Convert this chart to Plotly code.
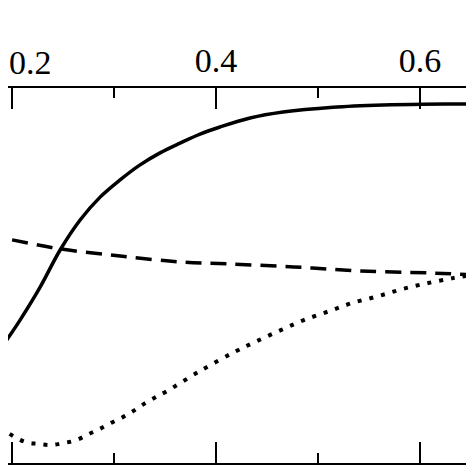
import plotly.graph_objects as go

solid_x = [0.180, 0.1882, 0.2078, 0.2275, 0.2471, 0.2667, 0.2863, 0.3059, 0.3255, 0.3451,
           0.3647, 0.3843, 0.4039, 0.4333, 0.4657, 0.5147, 0.5637, 0.6020, 0.6600]
solid_y = [0.735, 0.699, 0.619, 0.531, 0.432, 0.352, 0.291, 0.245, 0.205, 0.173,
           0.147, 0.123, 0.104, 0.080, 0.064, 0.051, 0.045, 0.043, 0.043]

dash_x = [0.200, 0.247, 0.306, 0.365, 0.411, 0.476, 0.541, 0.607, 0.645]
dash_y = [0.405, 0.429, 0.448, 0.464, 0.469, 0.477, 0.488, 0.493, 0.497]

dot_x = [0.180, 0.191, 0.201, 0.213, 0.225, 0.238, 0.250, 0.263, 0.275, 0.286, 0.297,
         0.309, 0.319, 0.329, 0.341, 0.352, 0.384, 0.418, 0.440, 0.464, 0.486,
         0.511, 0.534, 0.559, 0.583, 0.608, 0.632, 0.645]
dot_y = [0.880, 0.909, 0.928, 0.944, 0.949, 0.952, 0.947, 0.939, 0.923, 0.909, 0.893,
         0.877, 0.861, 0.843, 0.824, 0.808, 0.755, 0.704, 0.675, 0.645, 0.619,
         0.595, 0.573, 0.555, 0.536, 0.520, 0.507, 0.501]

tick_vals = [0.2, 0.4, 0.6]
tick_text = ["0.2", "0.4", "0.6"]

fig = go.Figure()
fig.add_trace(go.Scatter(x=solid_x, y=solid_y, mode='lines',
                         line=dict(color='black', width=3.5, shape='spline')))
fig.add_trace(go.Scatter(x=dash_x, y=dash_y, mode='lines',
                         line=dict(color='black', width=3.5, shape='spline',
                                   dash='16px,9px')))
fig.add_trace(go.Scatter(x=dot_x, y=dot_y, mode='lines',
                         line=dict(color='black', width=4, shape='spline',
                                   dash='4px,8px')))

# page body has an 8px margin, so the figure starts at (8, 8)
xr = [0.1960, 0.6529]
minor = dict(tickvals=[0.3, 0.5], ticks='inside', ticklen=10,
             tickwidth=2, tickcolor='black', showgrid=False)
# first label sits on the left edge; drawn as an annotation so it is not cut
shown_text = [""] + tick_text[1:]
fig.update_layout(
    width=466, height=466,
    margin=dict(l=0, r=0, t=80, b=11, autoexpand=False),
    paper_bgcolor='white', plot_bgcolor='white',
    showlegend=False,
    font=dict(family='Liberation Serif', color='black'),
    xaxis=dict(range=xr, side='top', tickvals=tick_vals, ticktext=shown_text,
               ticks='inside', ticklen=21, tickwidth=2, tickcolor='black',
               showline=True, linewidth=2, linecolor='black', showgrid=False,
               zeroline=False, automargin=False, ticklabeloverflow='allow',
               tickfont=dict(size=34, family='Liberation Serif'), minor=minor),
    xaxis2=dict(range=xr, overlaying='x', side='bottom', tickvals=tick_vals,
                showticklabels=False, ticks='inside', ticklen=21, tickwidth=2,
                tickcolor='black', showline=True, linewidth=2, linecolor='black',
                showgrid=False, zeroline=False, automargin=False, minor=minor),
    yaxis=dict(range=[1, 0], visible=False),
)
fig.add_annotation(text=tick_text[0], xref='paper', yref='paper', x=0, y=1,
                   xanchor='left', yanchor='bottom', yshift=6, showarrow=False,
                   borderpad=0, font=dict(size=34, family='Liberation Serif'))
# invisible trace so the bottom axis is drawn
fig.add_trace(go.Scatter(x=[xr[0]], y=[0.5], xaxis='x2', mode='markers',
                         marker=dict(opacity=0), hoverinfo='skip'))

fig.write_html("out.html")
